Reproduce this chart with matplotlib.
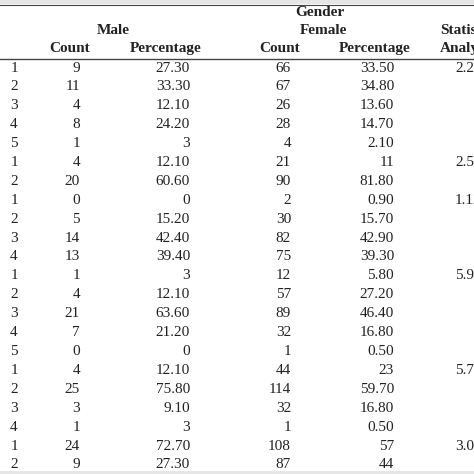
import matplotlib
matplotlib.use("Agg")
import matplotlib.pyplot as plt

rows = [1,2,3,4,5,1,2,1,2,3,4,1,2,3,4,5,1,2,3,4,1,2]
male_count = ["9","11","4","8","1","4","20","0","5","14","13","1","4","21","7","0","4","25","3","1","24","9"]
male_pct = ["27.30","33.30","12.10","24.20","3","12.10","60.60","0","15.20","42.40","39.40","3","12.10","63.60","21.20","0","12.10","75.80","9.10","3","72.70","27.30"]
fem_count = ["66","67","26","28","4","21","90","2","30","82","75","12","57","89","32","1","44","114","32","1","108","87"]
fem_pct = ["33.50","34.80","13.60","14.70","2.10","11","81.80","0.90","15.70","42.90","39.30","5.80","27.20","46.40","16.80","0.50","23","59.70","16.80","0.50","57","44"]
stat = {0:"2.24",5:"2.56",7:"1.12",11:"5.98",16:"5.76",20:"3.00"}

W = H = 474
fig = plt.figure(figsize=(4.74,4.74), dpi=100)
ax = fig.add_axes([0,0,1,1])
ax.set_xlim(0,W); ax.set_ylim(H,0); ax.axis("off")
plt.rcParams['font.family'] = ['Liberation Serif']
fs = 11
ax.axhspan(0,4,color="#e6e6e6",lw=0)
ax.axhspan(471,474,color="#e6e6e6",lw=0)
ax.plot([0,W],[5,5],color="#444",lw=0.8)
ax.plot([0,W],[59,59],color="#444",lw=1.0)
b = dict(fontweight="bold", fontsize=fs, va="center", color="#222")
ax.text(320,12,"Gender",ha="center",**b)
ax.text(113,30,"Male",ha="center",**b)
ax.text(323,30,"Female",ha="center",**b)
ax.text(440,30,"Statistical",ha="left",**b)
ax.text(440,48,"Analysis",ha="left",**b)
for x,t in [(70,"Count"),(166,"Percentage"),(280,"Count"),(375,"Percentage")]:
    ax.text(x,48,t,ha="center",**b)
for i in range(len(rows)):
    y = 68 + i*18.9
    kw = dict(fontsize=fs, va="center", color="#222")
    ax.text(14,y,str(rows[i]),ha="center",**kw)
    ax.text(80,y,male_count[i],ha="right",**kw)
    ax.text(190,y,male_pct[i],ha="right",**kw)
    ax.text(291,y,fem_count[i],ha="right",**kw)
    ax.text(394,y,fem_pct[i],ha="right",**kw)
    if i in stat:
        ax.text(455,y,stat[i],ha="left",**kw)
fig.savefig("out.png",dpi=100)
